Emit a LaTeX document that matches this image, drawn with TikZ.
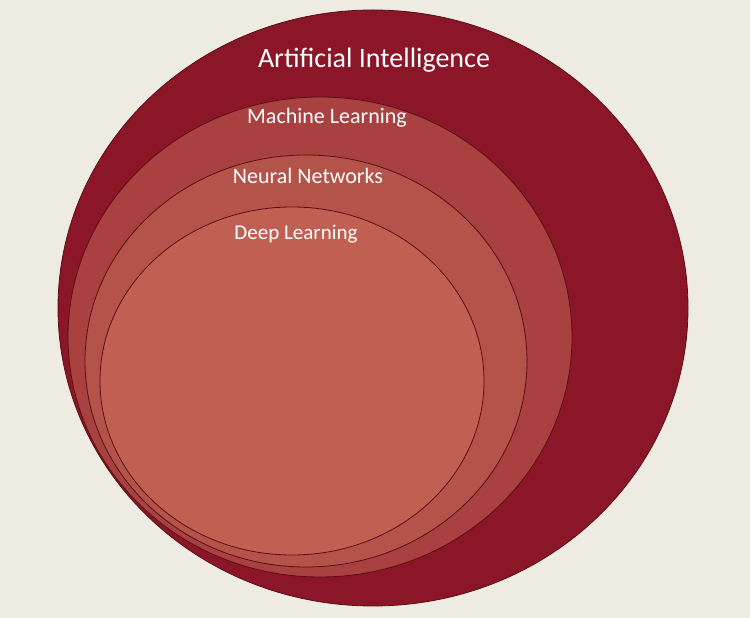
\documentclass[tikz,border=0pt]{standalone}
\usepackage{fontspec}
\setmainfont{Carlito}
\definecolor{bg}{HTML}{EEEBE2}
\definecolor{ai}{HTML}{8B1628}
\definecolor{ml}{HTML}{A8413F}
\definecolor{nn}{HTML}{B4534A}
\definecolor{dl}{HTML}{C06052}
\definecolor{edge}{HTML}{5A0E14}
\begin{document}
\begin{tikzpicture}[x=1pt,y=1pt,
  blob/.style={draw=edge,line width=0.8pt},
  lbl/.style={text=white,inner sep=0pt}]
\fill[bg] (0,0) rectangle (750,618);
\useasboundingbox (0,0) rectangle (750,618);
\filldraw[blob,fill=ai] (373,310) ellipse [x radius=315,y radius=298];
\filldraw[blob,fill=ml] (320,281) ellipse [x radius=252,y radius=240];
\filldraw[blob,fill=nn] (306,257) ellipse [x radius=221,y radius=206];
\filldraw[blob,fill=dl] (292,237) ellipse [x radius=192,y radius=174];
\node[lbl,font=\fontsize{28}{32}\selectfont] (ai) at (374,558) {Artificial Intelligence};
\node[lbl,font=\fontsize{22}{26}\selectfont] (ml) at (327,500) {Machine Learning};
\node[lbl,font=\fontsize{22}{26}\selectfont] (nn) at (308,442) {Neural Networks};
\node[lbl,font=\fontsize{21}{25}\selectfont] (dl) at (296,384) {Deep Learning};
\end{tikzpicture}
\end{document}
